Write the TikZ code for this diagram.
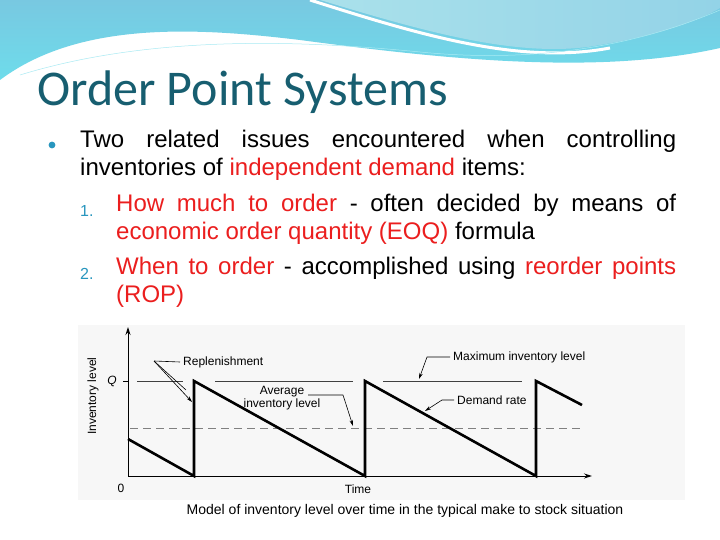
\documentclass[tikz,border=0pt]{standalone}
\usepackage{fontspec}
\setmainfont{Liberation Sans}
\newfontfamily\titlefont{Carlito}
\usetikzlibrary{arrows.meta}
\definecolor{teal1}{RGB}{23,94,112}
\definecolor{red1}{RGB}{235,30,30}
\definecolor{num}{RGB}{40,150,190}
\definecolor{sky1}{RGB}{120,200,225}
\definecolor{sky2}{RGB}{110,220,235}
\definecolor{sky3}{RGB}{170,225,235}
\hyphenpenalty=10000
\exhyphenpenalty=10000
\begin{document}
\begin{tikzpicture}[x=1pt,y=-1pt,
  body/.style={anchor=north west,inner sep=0pt,font=\fontsize{24}{28}\selectfont,align=justify},
  lbl/.style={font=\fontsize{12}{13.5}\selectfont,inner sep=0pt},
  lead/.style={draw=black,line width=0.6pt},
  leadarr/.style={lead,-{Stealth[length=6pt,width=3.5pt]}},
  saw/.style={line width=2.6pt,line join=miter},
  maxl/.style={draw=black!75,line width=0.8pt}]
\useasboundingbox (0,0) rectangle (720,540);
\fill[white] (0,0) rectangle (720,540);
% header waves
\shade[top color=sky1,bottom color=sky2] (0,0) -- (720,0) -- (720,48) .. controls (600,75) and (450,60) .. (300,40) .. controls (200,28) and (80,20) .. (0,80) -- cycle;
\shade[left color=sky3,right color=sky1!80] (320,0) .. controls (420,30) and (520,60) .. (600,45) .. controls (660,35) and (700,20) .. (720,8) -- (720,0) -- cycle;
\draw[white,line width=3pt] (310,0) .. controls (420,35) and (520,65) .. (610,48);
\draw[sky2!60!white,line width=0.5pt] (20,75) .. controls (150,35) and (300,40) .. (420,52) .. controls (550,65) and (650,40) .. (720,10);
% title
\node[anchor=west,inner sep=0pt,text=teal1,font=\titlefont\fontsize{50}{54}\selectfont] (title) at (37,92) {Order Point Systems};
% bullet
\fill[num] (52,145) circle (3.4pt);
\node[body,text width=596pt] (b1) at (80,130) {Two related issues encountered when controlling inventories of \textcolor{red1}{independent demand} items:};
\node[anchor=west,inner sep=0pt,text=num,font=\fontsize{16}{18}\selectfont] (n1) at (80,211) {1.};
\node[body,text width=560pt] (i1) at (116,194) {\textcolor{red1}{How much to order} - often decided by means of \textcolor{red1}{economic order quantity (EOQ)} formula};
\node[anchor=west,inner sep=0pt,text=num,font=\fontsize{16}{18}\selectfont] (n2) at (80,274) {2.};
\node[body,text width=560pt] (i2) at (116,257) {\textcolor{red1}{When to order} - accomplished using \textcolor{red1}{reorder points (ROP)}};
% chart background
\fill[black!3] (78,325) rectangle (685,500);
% axes
\coordinate (O) at (128,476);
\coordinate (ytop) at (128,327);
\coordinate (xend) at (592,476);
\draw[line width=0.9pt,-{Stealth[length=8pt,width=5pt]}] (O) -- (ytop);
\draw[line width=0.9pt,-{Stealth[length=8pt,width=5pt]}] (O) -- (xend);
\draw[line width=0.8pt] (123,381) -- (128,381);
\node[lbl,anchor=east,font=\itshape\fontsize{12}{13}\selectfont] (Q) at (117,381) {Q};
\node[lbl] (zero) at (121,488) {0};
\node[lbl] (time) at (358,489) {Time};
\node[lbl,rotate=90] (inv) at (93,396) {Inventory level};
% max level segments and average
\draw[maxl] (137,381) -- (183,381) (215,381) -- (353,381) (383,381) -- (522,381);
\draw[black!50,line width=0.6pt,dash pattern=on 8pt off 5pt] (130,428) -- (582,428);
% sawtooth
\draw[saw] (128,439) -- (194,476) -- (194,381) -- (365,476) -- (365,381) -- (536,476) -- (536,381) -- (582,405);
% labels
\node[lbl,anchor=west] (rep) at (183,362) {Replenishment};
\draw[lead] (rep.west) ++(-3,0) -- (154,361);
\draw[leadarr] (154,361) -- (192,402);
\draw[lead] (154,361) -- (186,390);
\node[lbl,align=center] (avg) at (282,398) {Average\\inventory level};
\draw[leadarr] (308,395) -- (343,395) -- (353,426);
\node[lbl,anchor=west] (max) at (453,357) {Maximum inventory level};
\draw[leadarr] (450,357) -- (427,357) -- (419,379);
\node[lbl,anchor=west] (dem) at (457,400) {Demand rate};
\draw[leadarr] (454,400) -- (442,400) -- (425,411);
% caption
\node[inner sep=0pt,font=\fontsize{14}{16}\selectfont] (cap) at (405,511) {Model of inventory level over time in the typical make to stock situation};
\end{tikzpicture}
\end{document}
